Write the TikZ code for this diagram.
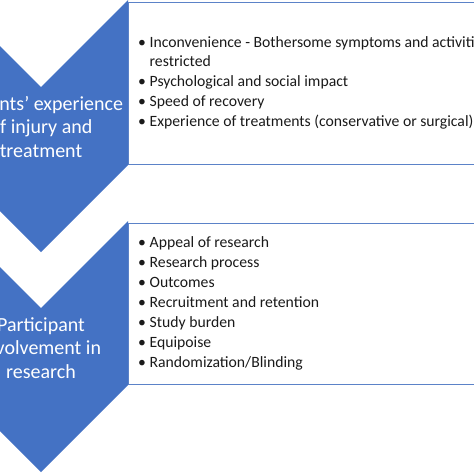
\documentclass[tikz,border=0pt]{standalone}
\usepackage{fontspec}
\setmainfont{Carlito}
\definecolor{chev}{HTML}{4472C4}
\definecolor{boxline}{HTML}{5B82C8}
\definecolor{txt}{HTML}{1A1A1A}
\newcommand{\bl}[1]{\makebox[11.5pt][l]{•}#1}
\newcommand{\cont}[1]{\hspace*{11.5pt}#1}
\begin{document}
\begin{tikzpicture}[x=1pt,y=-1pt,
  chevfill/.style={fill=chev},
  boxstyle/.style={draw=boxline,line width=1.3pt,fill=white,anchor=north west,inner sep=0pt,minimum width=470pt},
  chevtext/.style={text=white,align=center,font=\fontsize{20}{23.5}\selectfont,inner sep=0pt},
  listtext/.style={text=txt,align=left,anchor=west,font=\fontsize{15.7}{20}\selectfont,inner sep=0pt}]
\useasboundingbox (0,0) rectangle (474,474);
\clip (0,0) rectangle (474,474);
\fill[white] (0,0) rectangle (474,474);
% chevrons
\fill[chevfill] (-46,0) -- (41,87) -- (128,0) -- (128,165) -- (41,252) -- (-46,165) -- cycle;
\fill[chevfill] (-46,221) -- (41,308) -- (128,221) -- (128,385) -- (41,472) -- (-46,385) -- cycle;
% boxes
\node[boxstyle,minimum height=162.5pt] (box1) at (128,1.5) {};
\node[boxstyle,minimum height=161pt] (box2) at (128,223) {};
% chevron texts
\node[chevtext] (t1) at (41,127) {Patients' experience\\of injury and\\treatment};
\node[chevtext] (t2) at (41,348) {Participant\\involvement in\\research};
% lists
\node[listtext] (l1) at (138,83) {\bl{Inconvenience - Bothersome symptoms and activities}\\[-1.2pt]
\cont{restricted}\\
\bl{Psychological and social impact}\\
\bl{Speed of recovery}\\
\bl{Experience of treatments (conservative or surgical)}};
\node[listtext] (l2) at (138,303.5) {\bl{Appeal of research}\\
\bl{Research process}\\
\bl{Outcomes}\\
\bl{Recruitment and retention}\\
\bl{Study burden}\\
\bl{Equipoise}\\
\bl{Randomization/Blinding}};
\end{tikzpicture}
\end{document}
